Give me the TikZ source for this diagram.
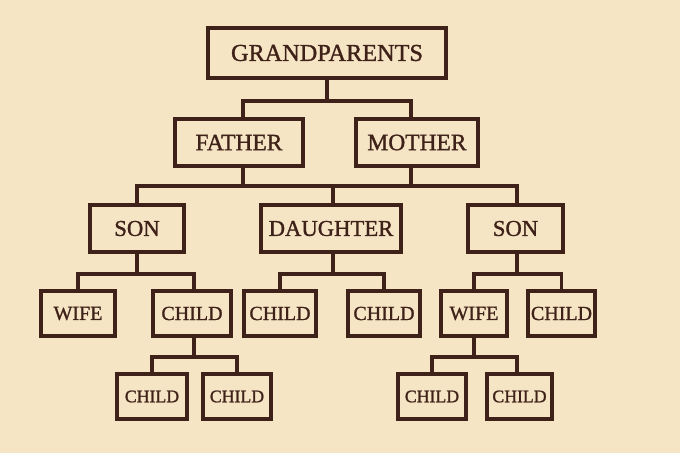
\documentclass[tikz,border=0pt]{standalone}
\usepackage{fontspec}
\setmainfont{Liberation Serif}[BoldFont=Liberation Serif, BoldFeatures={FakeBold=1.2}]
\usetikzlibrary{calc}
\definecolor{bg}{RGB}{246,229,197}
\definecolor{ink}{RGB}{62,33,24}
\newlength{\pxu}\setlength{\pxu}{0.75pt}
\tikzset{
  box/.style={draw=ink, line width=2.3pt, text=ink, inner sep=0pt, outer sep=0pt, fill=none},
  lA/.style={box, minimum height=50\pxu, font=\bfseries\fontsize{18.2pt}{20pt}\selectfont},
  lB/.style={box, minimum height=47\pxu, font=\bfseries\fontsize{17.6pt}{20pt}\selectfont},
  lC/.style={box, minimum height=47\pxu, font=\bfseries\fontsize{17pt}{20pt}\selectfont},
  lD/.style={box, minimum height=45\pxu, font=\bfseries\fontsize{15pt}{18pt}\selectfont},
  lE/.style={box, minimum height=45\pxu, font=\bfseries\fontsize{13.3pt}{16pt}\selectfont},
  wire/.style={draw=ink, line width=2.3pt}
}
\begin{document}
\begin{tikzpicture}[x=0.75pt,y=-0.75pt]
\fill[bg] (0,0) rectangle (680,453);
\useasboundingbox (0,0) rectangle (680,453);
% nodes
\node[lA, minimum width=238\pxu] (gp) at (327,53) {GRANDPARENTS};
\node[lB, minimum width=128\pxu] (father) at (239,142.5) {FATHER};
\node[lB, minimum width=122\pxu] (mother) at (417,142.5) {MOTHER};
\node[lC, minimum width=94\pxu] (son1) at (137,228.5) {SON};
\node[lC, minimum width=140\pxu] (daughter) at (331,228.5) {DAUGHTER};
\node[lC, minimum width=95\pxu] (son2) at (515.5,228.5) {SON};
\node[lD, minimum width=74\pxu] (wife1) at (78,313.5) {WIFE};
\node[lD, minimum width=78\pxu] (child1) at (192,313.5) {CHILD};
\node[lD, minimum width=72\pxu] (child2) at (280,313.5) {CHILD};
\node[lD, minimum width=72\pxu] (child3) at (384,313.5) {CHILD};
\node[lD, minimum width=66\pxu] (wife2) at (474,313.5) {WIFE};
\node[lD, minimum width=67\pxu] (child4) at (561.5,313.5) {CHILD};
\node[lE, minimum width=70\pxu] (gc1) at (152,396.5) {CHILD};
\node[lE, minimum width=68\pxu] (gc2) at (237,396.5) {CHILD};
\node[lE, minimum width=68\pxu] (gc3) at (432,396.5) {CHILD};
\node[lE, minimum width=65\pxu] (gc4) at (519.5,396.5) {CHILD};
% level 1
\draw[wire] (gp.south) -- ++(0,23);
\draw[wire] ($(father.north)+(4,0)$) |- ($(mother.north)+(-6,-18)$) -- ($(mother.north)+(-6,0)$);
% level 2
\draw[wire] ($(father.south)+(4,0)$) -- ++(0,20);
\draw[wire] ($(mother.south)+(-6,0)$) -- ++(0,20);
\draw[wire] (son1.north) |- ($(son2.north)+(1.5,-19)$) -- ($(son2.north)+(1.5,0)$);
\draw[wire] ($(daughter.north)+(2,0)$) -- ++(0,-19);
% level 3
\draw[wire] (son1.south) -- ++(0,22);
\draw[wire] (wife1.north) |- ($(child1.north)+(2,-17)$) -- ($(child1.north)+(2,0)$);
\draw[wire] ($(daughter.south)+(2,0)$) -- ++(0,22);
\draw[wire] (child2.north) |- ($(child3.north)+(0,-17)$) -- (child3.north);
\draw[wire] ($(son2.south)+(1.5,0)$) -- ++(0,22);
\draw[wire] (wife2.north) |- ($(child4.north)+(0,-17)$) -- (child4.north);
% level 4
\draw[wire] ($(child1.south)+(2,0)$) -- ++(0,21);
\draw[wire] (gc1.north) |- ($(gc2.north)+(0,-17)$) -- (gc2.north);
\draw[wire] (wife2.south) -- ++(0,21);
\draw[wire] (gc3.north) |- ($(gc4.north)+(-2.5,-17)$) -- ($(gc4.north)+(-2.5,0)$);
\end{tikzpicture}
\end{document}
